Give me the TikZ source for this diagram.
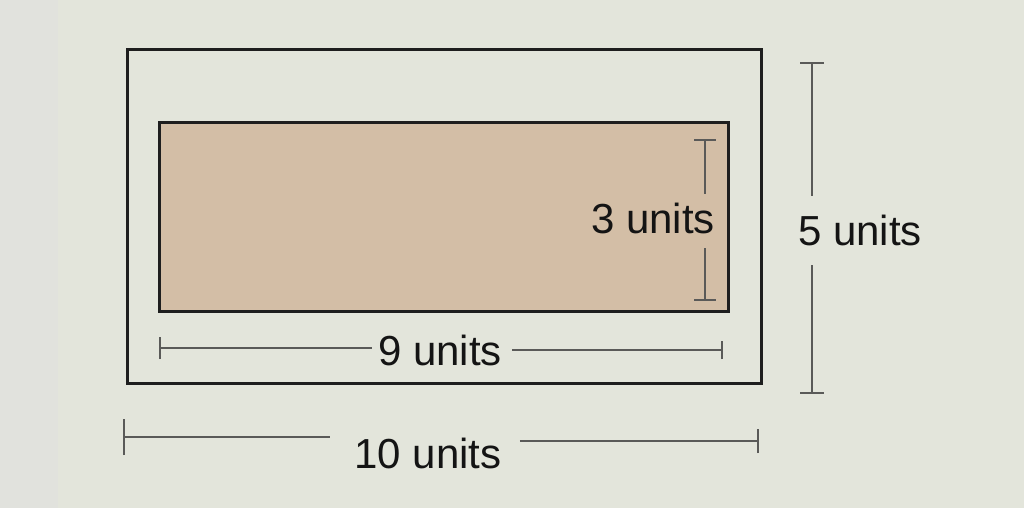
\documentclass[tikz,border=0pt]{standalone}
\usepackage{fontspec}
\setmainfont{Liberation Sans}
\definecolor{bg}{HTML}{E3E5DB}
\definecolor{tan}{HTML}{D3BEA6}
\definecolor{dimc}{HTML}{5A5A58}
\definecolor{edge}{HTML}{1E1E1E}
\begin{document}
\begin{tikzpicture}[x=1pt,y=-1pt,
  box/.style={draw=edge,line width=3pt,anchor=north west,inner sep=0pt},
  dimline/.style={draw=dimc,line width=2.4pt},
  lbl/.style={font=\fontsize{42}{48}\selectfont,text=black!92,inner sep=2pt}]
\useasboundingbox[fill=bg] (0,0) rectangle (1024,508);
\fill[black!12,opacity=0.5] (0,0) rectangle (58,508);
% rectangles
\node[box,minimum width=634pt,minimum height=334pt,fill=bg] (outer) at (126,48) {};
\node[box,minimum width=569pt,minimum height=189pt,fill=tan] (inner) at (158,121) {};
% 3 units
\node[lbl] (l3) at (653,218) {3 units};
\coordinate (a3t) at (705,140);
\coordinate (a3b) at (705,300);
\draw[dimline] (a3t) -- (705,194);
\draw[dimline] (705,248) -- (a3b);
\draw[dimline] ([xshift=-11pt]a3t) -- ([xshift=11pt]a3t);
\draw[dimline] ([xshift=-11pt]a3b) -- ([xshift=11pt]a3b);
% 5 units
\node[lbl] (l5) at (860,230) {5 units};
\coordinate (a5t) at (812,63);
\coordinate (a5b) at (812,393);
\draw[dimline] (a5t) -- (812,196);
\draw[dimline] (812,265) -- (a5b);
\draw[dimline] ([xshift=-12pt]a5t) -- ([xshift=12pt]a5t);
\draw[dimline] ([xshift=-12pt]a5b) -- ([xshift=12pt]a5b);
% 9 units
\node[lbl] (l9) at (440,350) {9 units};
\coordinate (a9l) at (160,348);
\coordinate (a9r) at (722,350);
\draw[dimline] (a9l) -- ([xshift=-4pt]l9.west |- a9l);
\draw[dimline] ([xshift=8pt]l9.east |- a9r) -- (a9r);
\draw[dimline] ([yshift=-11pt]a9l) -- ([yshift=11pt]a9l);
\draw[dimline,line width=1.4pt] ([yshift=-9pt]a9r) -- ([yshift=9pt]a9r);
% 10 units
\node[lbl] (l10) at (428,453) {10 units};
\coordinate (a10l) at (124,437);
\coordinate (a10r) at (758,441);
\draw[dimline] (a10l) -- ([xshift=-22pt]l10.west |- a10l);
\draw[dimline] ([xshift=16pt]l10.east |- a10r) -- (a10r);
\draw[dimline] ([yshift=-18pt]a10l) -- ([yshift=18pt]a10l);
\draw[dimline,line width=1.4pt] ([yshift=-12pt]a10r) -- ([yshift=12pt]a10r);
\end{tikzpicture}
\end{document}
